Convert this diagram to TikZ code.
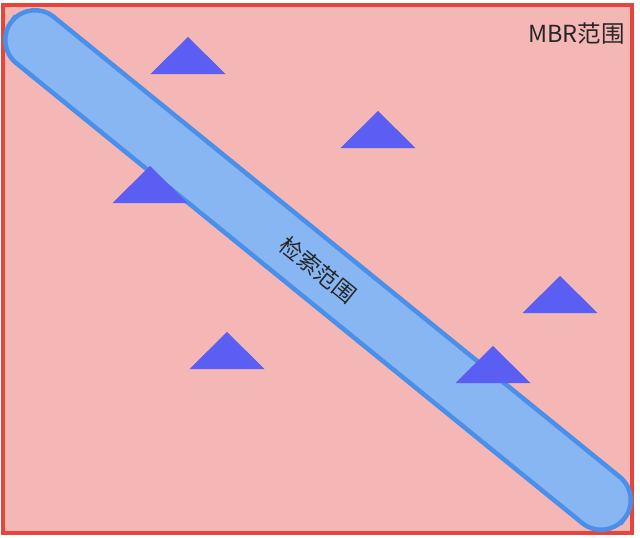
\documentclass[tikz,border=0pt]{standalone}
\usepackage{fontspec}
\setmainfont{Noto Sans CJK SC}
\definecolor{mbrred}{HTML}{E5463C}
\definecolor{mbrfill}{HTML}{F4B7B5}
\definecolor{rangeblue}{HTML}{4A8FE8}
\definecolor{rangefill}{HTML}{88B6F3}
\definecolor{pointblue}{HTML}{5A5EF2}
\tikzset{
    mbrbox/.style={draw=mbrred, fill=mbrfill, line width=4.5pt}, % bounding rectangle
    queryband/.style={draw=rangeblue, fill=rangefill, line width=4.5pt}, % query band
    datapoint/.style={fill=pointblue}, % data objects
}
\newcommand{\tri}[2]{\fill[datapoint] (#1,#2) -- ++(-37.5,37) -- ++(75,0) -- cycle;}

\begin{document}
\begin{tikzpicture}[
    x=1pt, y=-1pt,
    every node/.style={text=black!85, inner sep=0pt}
]
    \useasboundingbox (0,0) rectangle (640,538);

    % --- MBR ---
    \draw[mbrbox] (3.2,5.2) rectangle (631.8,532.8);
    \node[anchor=base east, font=\fontsize{23.5}{27}\selectfont] (mbrlabel) at (625,42.5) {MBR范围};

    % --- Query range ---
    \node[queryband, rectangle, rounded corners=29.75pt, minimum width=789pt,
          minimum height=59.5pt, rotate=-39.1,
          font=\fontsize{22.5}{26}\selectfont] (search) at (318,270) {检索范围};

    % --- Objects ---
    \foreach \x/\y in {188/37, 378/111, 150/166, 560/276, 227/332, 493/346}
        {\tri{\x}{\y}}

\end{tikzpicture}
\end{document}
